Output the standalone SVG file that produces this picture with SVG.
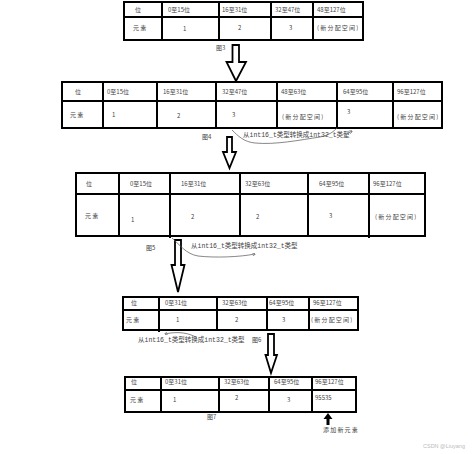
<svg xmlns="http://www.w3.org/2000/svg" width="474" height="454" viewBox="0 0 474 454">
<defs>
<style>
.tb{fill:#fff;stroke:#000;stroke-width:2}
.ln{stroke:#000;stroke-width:2;fill:none}
.t{font-family:"Noto Sans CJK SC","Liberation Sans",sans-serif;font-size:6px;fill:#444}
.s{letter-spacing:1.2px}
.a{font-family:"Liberation Mono","Noto Sans CJK SC",monospace;font-size:6.5px;fill:#444}
.arr{fill:#fff;stroke:#000;stroke-width:1.8;stroke-linejoin:miter}
.cv{fill:none;stroke:#555;stroke-width:0.7}
.wm{font-family:"Liberation Sans",sans-serif;font-size:5.5px;fill:#bbb}
</style>
<marker id="ah" viewBox="0 0 6 6" refX="5" refY="3" markerWidth="5" markerHeight="5" orient="auto">
<path d="M0,0 L6,3 L0,6" fill="none" stroke="#555" stroke-width="1"/>
</marker>
</defs>
<rect width="474" height="454" fill="#fff"/>

<g id="table3">
<rect class="tb" x="124" y="2" width="239" height="38"/>
<path class="ln" d="M124,17H363M162,2V40M219,2V40M271,2V40M313,2V40"/>
<text class="t" x="135" y="12">位</text>
<text class="t" x="168" y="12">0至15位</text>
<text class="t" x="222" y="12">16至31位</text>
<text class="t" x="275" y="12">32至47位</text>
<text class="t" x="317" y="12">48至127位</text>
<text class="t s" x="133" y="30">元素</text>
<text class="t" x="183" y="31">1</text>
<text class="t" x="238" y="30">2</text>
<text class="t" x="289" y="30">3</text>
<text class="t s" x="317" y="30">(新分配空间)</text>
<text class="t" x="216" y="50">图3</text>
</g>

<g id="table4">
<rect class="tb" x="62" y="82" width="380" height="46"/>
<path class="ln" d="M62,101H442M103,82V128M157,82V128M216,82V128M277,82V128M337,82V128M393,82V128"/>
<text class="t" x="75" y="94">位</text>
<text class="t" x="107" y="94">0至15位</text>
<text class="t" x="163" y="94">16至31位</text>
<text class="t" x="222" y="94">32至47位</text>
<text class="t" x="281" y="94">48至63位</text>
<text class="t" x="343" y="94">64至95位</text>
<text class="t" x="397" y="94">96至127位</text>
<text class="t s" x="70" y="117">元素</text>
<text class="t" x="112" y="117">1</text>
<text class="t" x="177" y="118">2</text>
<text class="t" x="232" y="117">3</text>
<text class="t s" x="282" y="119">(新分配空间)</text>
<text class="t" x="347" y="114">3</text>
<text class="t s" x="397" y="119">(新分配空间)</text>
<text class="t" x="202" y="139">图4</text>
<text class="a" x="243" y="137">从int16_t类型转换成int32_t类型</text>
</g>

<g id="table5">
<rect class="tb" x="76" y="173" width="349" height="63"/>
<path class="ln" d="M76,194H425M119,173V236M170,173V238M240,173V236M308,173V236M369,173V238"/>
<text class="t" x="86" y="186">位</text>
<text class="t" x="130" y="186">0至15位</text>
<text class="t" x="181" y="186">16至31位</text>
<text class="t" x="245" y="186">32至63位</text>
<text class="t" x="319" y="186">64至95位</text>
<text class="t" x="373" y="186">96至127位</text>
<text class="t s" x="85" y="218">元素</text>
<text class="t" x="131" y="222">1</text>
<text class="t" x="191" y="219">2</text>
<text class="t" x="256" y="219">2</text>
<text class="t" x="329" y="218">3</text>
<text class="t s" x="375" y="219">(新分配空间)</text>
<text class="t" x="146" y="250">图5</text>
<text class="a" x="191" y="248">从int16_t类型转换成int32_t类型</text>
</g>

<g id="table6">
<rect class="tb" x="123" y="297" width="235" height="33"/>
<path class="ln" d="M123,310H358M159,297V332M217,297V330M267,297V330M309,297V330"/>
<text class="t" x="131" y="305">位</text>
<text class="t" x="165" y="305">0至31位</text>
<text class="t" x="222" y="305">32至63位</text>
<text class="t" x="269" y="305">64至95位</text>
<text class="t" x="313" y="305">96至127位</text>
<text class="t s" x="126" y="322">元素</text>
<text class="t" x="176" y="322">1</text>
<text class="t" x="235" y="322">2</text>
<text class="t" x="282" y="322">3</text>
<text class="t s" x="311" y="322">(新分配空间)</text>
<text class="a" x="138" y="342">从int16_t类型转换成int32_t类型</text>
<text class="t" x="252" y="342">图6</text>
</g>

<g id="table7">
<rect class="tb" x="125" y="377" width="231" height="35"/>
<path class="ln" d="M125,390H356M161,377V412M219,377V412M269,377V412M312,377V412"/>
<text class="t" x="131" y="384">位</text>
<text class="t" x="165" y="384">0至31位</text>
<text class="t" x="224" y="384">32至63位</text>
<text class="t" x="274" y="384">64至95位</text>
<text class="t" x="315" y="384">96至127位</text>
<text class="t s" x="130" y="402">元素</text>
<text class="t" x="173" y="402">1</text>
<text class="t" x="235" y="400">2</text>
<text class="t" x="287" y="402">3</text>
<text class="t" x="315" y="400">95535</text>
<text class="t" x="207" y="419">图7</text>
<text class="t s" x="323" y="432">添加新元素</text>
</g>

<g id="connectors">
<path class="arr" d="M232.5,45H239V62H246L236,81L226.5,62H232.5Z"/>
<path class="arr" d="M227,137H232V152H236L229.5,168L223,152H227Z"/>
<path class="arr" d="M175,240H181V265H184.5L178,292L171.5,265H175Z"/>
<path class="arr" d="M268,334H274V355H277L271,373L265.5,355H268Z"/>
<path d="M326.5,425V419H323.5L328,413L332.5,419H329.5V425Z" fill="#000"/>
<path class="cv" d="M232,130C238,136 244,142 255,143C275,145 300,140 320,137C330,135 334,131 337,128"/>
<path class="cv" d="M344,136L352,131" marker-end="url(#ah)"/>
<path class="cv" d="M172,238C180,245 186,254 198,256C215,258 240,257 255,254" marker-end="url(#ah)"/>
<path class="cv" d="M197,338C190,333 178,331 165,334" marker-end="url(#ah)"/>
</g>

<text class="wm" x="423" y="448">CSDN @Liuyang</text>
</svg>
